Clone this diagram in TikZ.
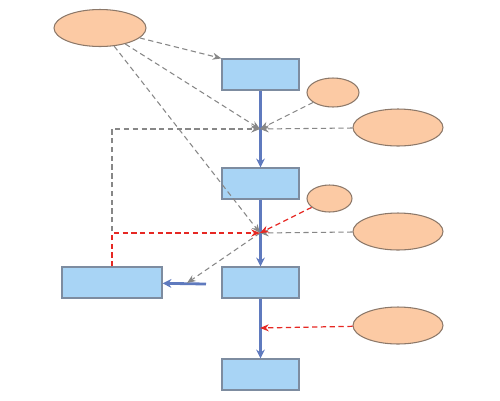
\documentclass[tikz,border=0pt]{standalone}
\usetikzlibrary{shapes.geometric, arrows.meta}

\definecolor{boxfill}{RGB}{168,212,245}
\definecolor{boxline}{RGB}{125,140,160}
\definecolor{ovalfill}{RGB}{252,202,164}
\definecolor{ovalline}{RGB}{140,120,105}
\definecolor{flowblue}{RGB}{95,122,190}
\definecolor{hintgray}{RGB}{135,135,135}
\definecolor{alertred}{RGB}{230,40,35}

\tikzset{
  stage/.style={draw=boxline, fill=boxfill, line width=0.7pt,
    minimum width=1.54cm, minimum height=0.62cm, inner sep=0pt},
  factor/.style={ellipse, draw=ovalline, fill=ovalfill, line width=0.6pt, inner sep=0pt},
  flow/.style={draw=flowblue, line width=1.6pt, -{Stealth[length=5pt,width=5pt]}},
  hint/.style={draw=hintgray, line width=0.6pt, dash pattern=on 3pt off 2pt, -{Stealth[length=5pt,width=4pt]}},
  alert/.style={draw=alertred, line width=0.7pt, dash pattern=on 3pt off 2pt, -{Stealth[length=5pt,width=4pt]}}
}

\begin{document}
\begin{tikzpicture}[x=0.02cm, y=-0.02cm]

        \useasboundingbox (0,0) rectangle (500,400);

        % main column
        \node[stage] (plan) at (260.5,74.5) {};
        \node[stage] (build) at (260.5,183.5) {};
        \node[stage] (test) at (260.5,282.5) {};
        \node[stage] (release) at (260.5,374.5) {};
        \node[stage, minimum width=2cm] (review) at (112,282.5) {};

        % factors
        \node[factor, minimum width=1.84cm, minimum height=0.74cm] (source) at (100,28) {};
        \node[factor, minimum width=1.04cm, minimum height=0.58cm] (f_one) at (333,92.5) {};
        \node[factor, minimum width=1.8cm, minimum height=0.74cm] (f_two) at (398,127.5) {};
        \node[factor, minimum width=0.9cm, minimum height=0.54cm] (f_three) at (329.5,198.5) {};
        \node[factor, minimum width=1.8cm, minimum height=0.74cm] (f_four) at (398,231.5) {};
        \node[factor, minimum width=1.8cm, minimum height=0.74cm] (f_five) at (398,325.5) {};

        % junctions
        \coordinate (j_one) at (260,129);
        \coordinate (j_two) at (260,233);
        \coordinate (j_three) at (260,328);
        \coordinate (stub) at (206,284);
        \coordinate (drop) at (187,283);

        % main flow
        \path[flow] (plan) -- (build);
        \path[flow] (build) -- (test);
        \path[flow] (test) -- (release);
        \path[flow] (stub) -- (review);

        % gray hints
        \path[hint] (source) -- (plan.north west);
        \path[hint] (source) -- (j_one);
        \path[hint] (source) -- (j_two);
        \path[hint] (f_one) -- (j_one);
        \path[hint] (f_two) -- (j_one);
        \path[hint] (review.north) |- (j_one);
        \path[hint] (f_four) -- (j_two);
        \path[hint] (j_two) -- (drop);

        % red alerts
        \path[alert] (review.north) |- (j_two);
        \path[alert] (f_three) -- (j_two);
        \path[alert] (f_five) -- (j_three);

\end{tikzpicture}
\end{document}
